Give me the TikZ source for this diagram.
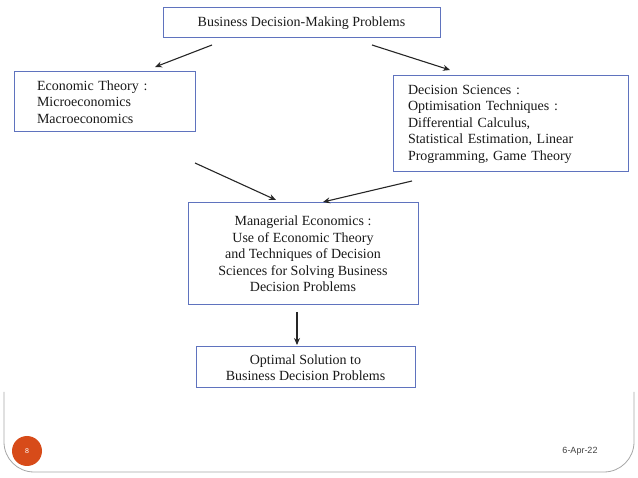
\documentclass[tikz,border=0pt]{standalone}
\usepackage{fontspec}
\setmainfont{Liberation Serif}
\newfontfamily\arialf{Liberation Sans}
\usetikzlibrary{arrows.meta}
\definecolor{bx}{RGB}{95,115,190}
\definecolor{org}{RGB}{215,75,25}
\begin{document}
\begin{tikzpicture}[x=1pt,y=-1pt,
  box/.style={draw=bx,line width=1pt,align=left,font=\fontsize{14}{16.5}\selectfont,inner sep=0pt,text=black!90},
  arr/.style={-{Stealth[length=7pt,width=6pt]},line width=1.1pt,black!85}]
\useasboundingbox (0,0) rectangle (638,478);
\node[box,minimum width=277,minimum height=30,align=center] (top) at (301.5,23) {Business Decision-Making Problems};
\node[box,minimum height=60,inner xsep=23pt,text width=135pt] (eco) at (104.5,102) {Economic Theory :\\Microeconomics\\Macroeconomics};
\node[box,minimum height=96,inner xsep=15pt,text width=205pt] (dec) at (510.5,124) {Decision Sciences :\\Optimisation Techniques :\\Differential Calculus,\\Statistical Estimation, Linear\\Programming, Game Theory};
\node[box,minimum width=230,minimum height=102,align=center] (man) at (303,254) {Managerial Economics :\\Use of Economic Theory\\and Techniques of Decision\\Sciences for Solving Business\\Decision Problems};
\node[box,minimum width=219,minimum height=41,align=center] (opt) at (305.5,367.5) {Optimal Solution to\\Business Decision Problems};
\coordinate (a1) at (212,45); \coordinate (a1e) at (155,67);
\coordinate (a2) at (372,45); \coordinate (a2e) at (450,70);
\coordinate (a3) at (195,163); \coordinate (a3e) at (276,200);
\coordinate (a4) at (412,181); \coordinate (a4e) at (323,202);
\coordinate (a5) at (297,312); \coordinate (a5e) at (297,345);
\draw[arr] (a1)--(a1e);
\draw[arr] (a2)--(a2e);
\draw[arr] (a3)--(a3e);
\draw[arr] (a4)--(a4e);
\draw[arr] (a5)--(a5e);
\draw[gray!70,line width=0.8pt,rounded corners=30pt] (4,392) -- (4,472) -- (634,472) -- (634,392);
\node[circle,fill=org,minimum size=30,inner sep=0,text=white,font=\arialf\fontsize{7}{8}\selectfont] (num) at (27,451) {8};
\node[font=\arialf\fontsize{9}{10}\selectfont,text=black!75] (date) at (580,451) {6-Apr-22};
\end{tikzpicture}
\end{document}
